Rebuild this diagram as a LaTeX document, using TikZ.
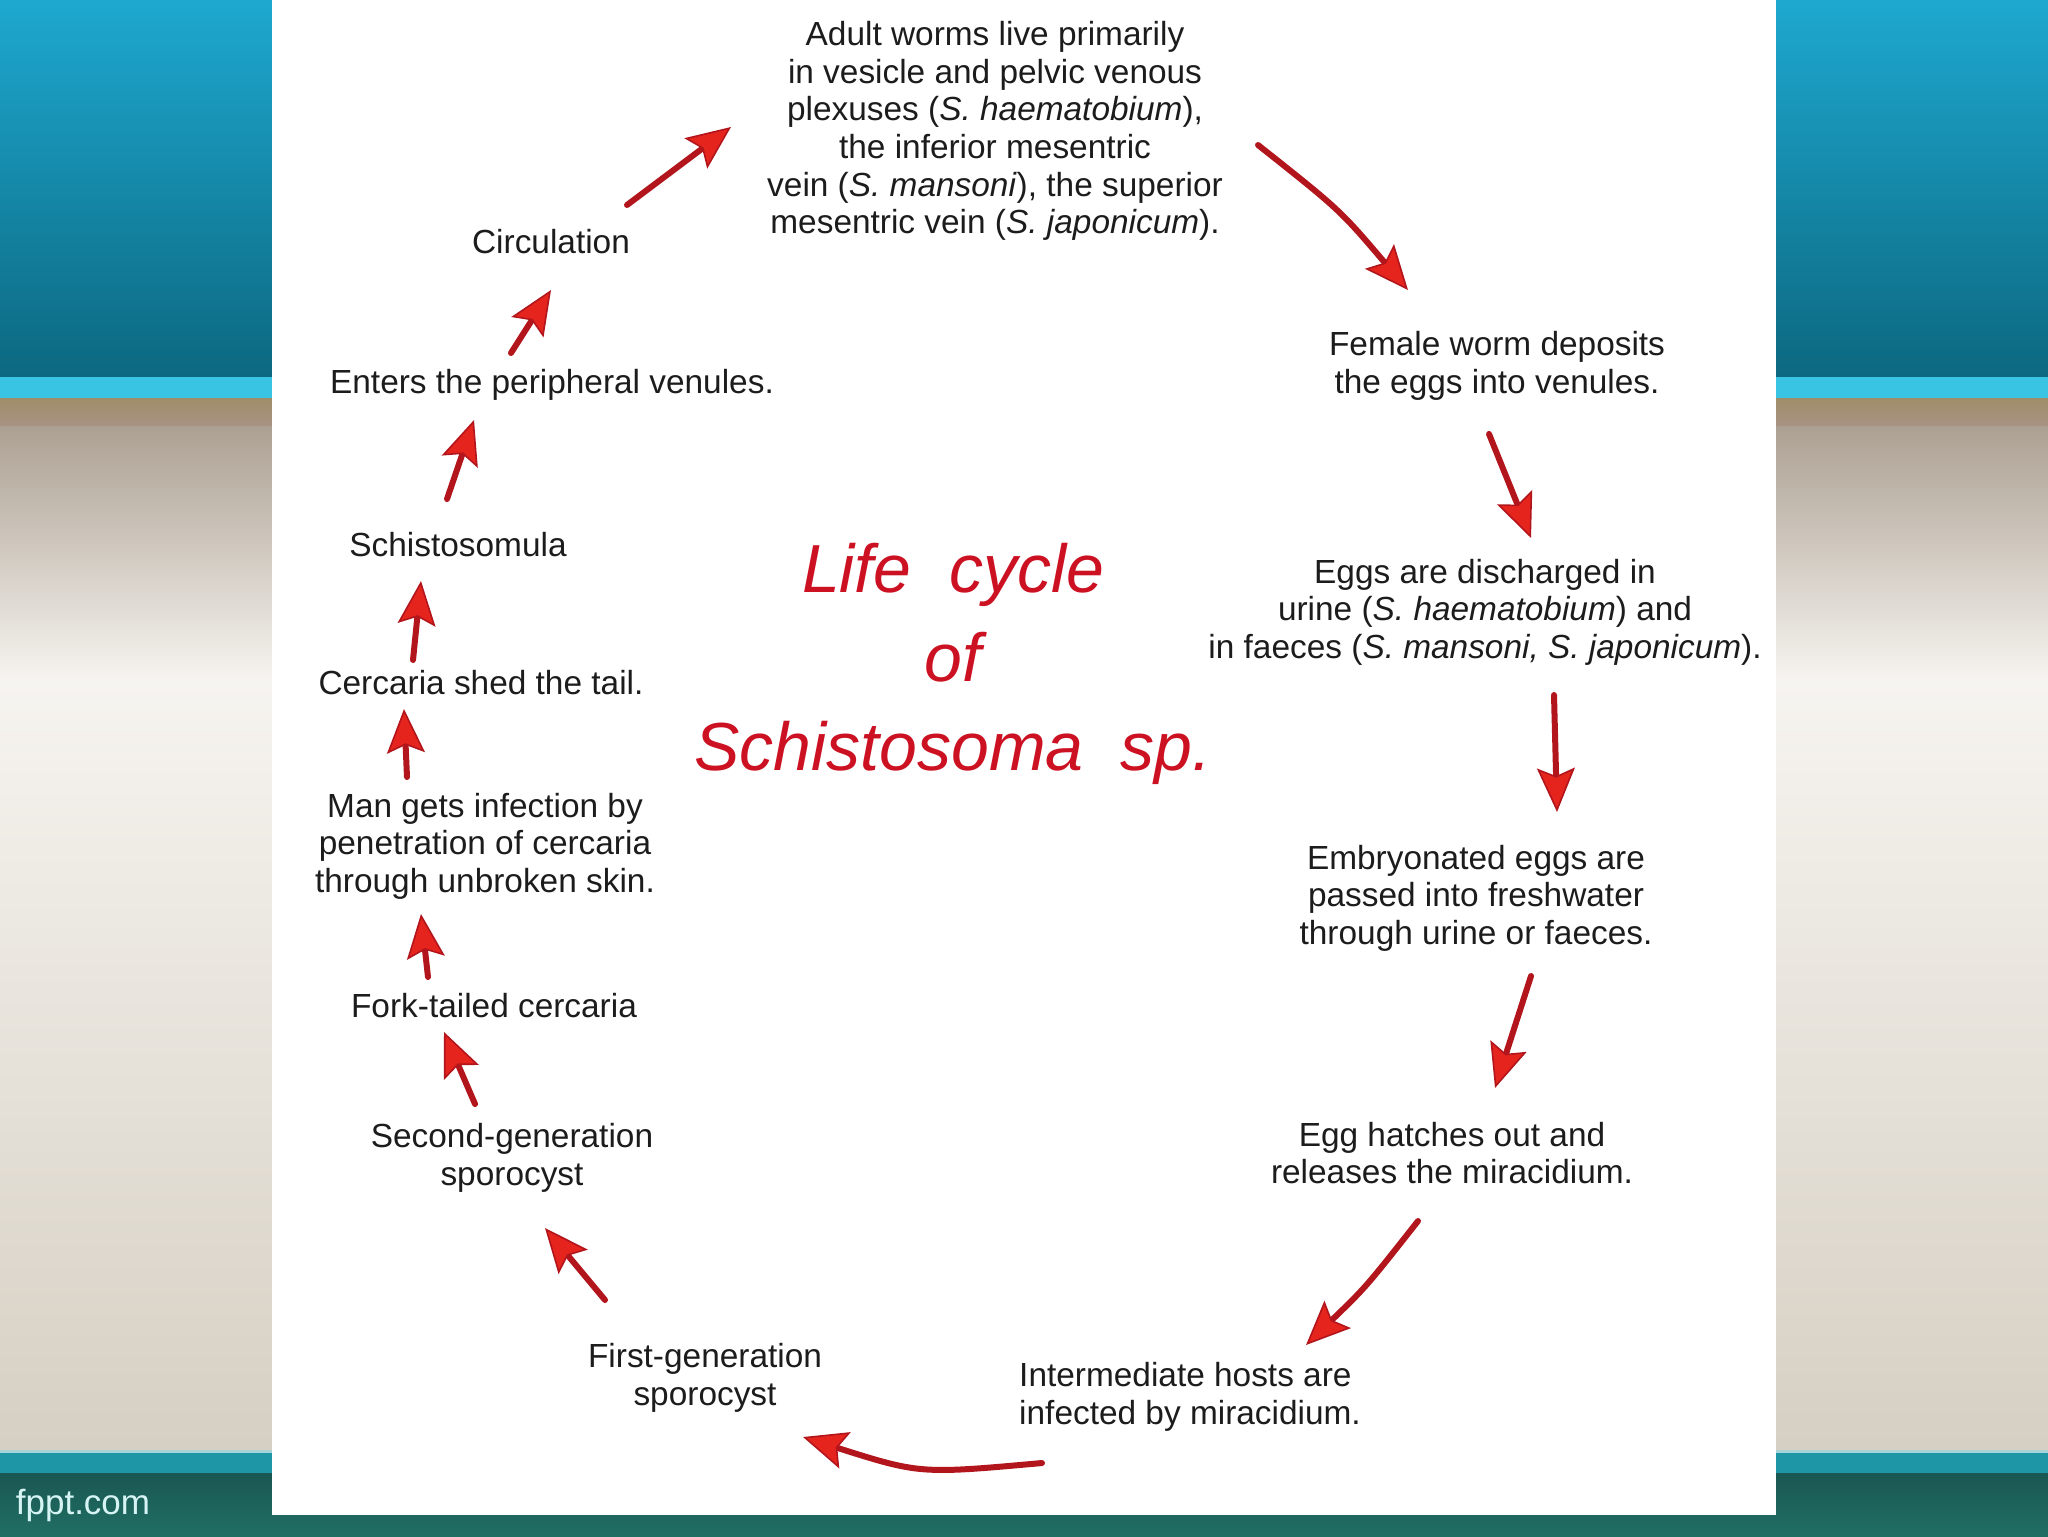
\documentclass[tikz,border=0pt]{standalone}
\usepackage{fontspec}
\setmainfont{Liberation Sans}
\usetikzlibrary{arrows.meta}
\definecolor{bluetop}{RGB}{30,168,208}
\definecolor{bluebot}{RGB}{12,104,128}
\definecolor{cyanstripe}{RGB}{56,196,226}
\definecolor{pinkband}{RGB}{168,146,132}
\definecolor{beigetop}{RGB}{172,160,146}
\definecolor{paletone}{RGB}{246,244,240}
\definecolor{beigebot}{RGB}{214,207,195}
\definecolor{tealstripe}{RGB}{30,150,166}
\definecolor{darkteal}{RGB}{26,88,82}
\definecolor{darkteal2}{RGB}{32,110,100}
\definecolor{footertext}{RGB}{214,244,244}
\definecolor{titlered}{RGB}{204,18,34}
\definecolor{arrowline}{RGB}{178,22,28}
\definecolor{arrowfill}{RGB}{230,36,30}
\definecolor{textgray}{RGB}{28,28,28}
\tikzset{
  lbl/.style={align=center, inner sep=0pt, text=textgray, font=\fontsize{16.7}{18.8}\selectfont},
  cyc/.style={draw=arrowline, line width=3pt, line cap=round,
    -{Stealth[length=22pt, width=19pt, inset=4pt, line width=0.8pt, fill=arrowfill]}},
}
\begin{document}
\begin{tikzpicture}[x=0.5pt, y=-0.5pt]
\useasboundingbox (0,0) rectangle (2048,1536);
% background
\shade[top color=bluetop, bottom color=bluebot] (0,0) rectangle (2048,377);
\fill[cyanstripe] (0,377) rectangle (2048,398);
\shade[top color=pinkband!80!olive, bottom color=pinkband] (0,398) rectangle (2048,426);
\shade[top color=beigetop, bottom color=paletone] (0,426) rectangle (2048,680);
\shade[top color=paletone, bottom color=beigebot] (0,680) rectangle (2048,1450);
\fill[tealstripe!40!white] (0,1450) rectangle (2048,1453);
\fill[tealstripe] (0,1453) rectangle (2048,1473);
\shade[top color=darkteal, bottom color=darkteal2] (0,1473) rectangle (2048,1536);
\fill[white] (272,0) rectangle (1776,1515);
\node[inner sep=0pt, text=footertext, font=\fontsize{17.5}{20}\selectfont] (footer) at (83,1505) {fppt.com};

% labels
\node[lbl] (adult) at (995,131) {Adult worms live primarily\\in vesicle and pelvic venous\\plexuses (\textit{S. haematobium}),\\the inferior mesentric\\vein (\textit{S. mansoni}), the superior\\mesentric vein (\textit{S. japonicum}).};
\node[lbl] (female) at (1497,366) {Female worm deposits\\the eggs into venules.};
\node[lbl] (eggs) at (1485,612) {Eggs are discharged in\\urine (\textit{S. haematobium}) and\\in faeces (\textit{S. mansoni, S. japonicum}).};
\node[lbl] (embryo) at (1476,898) {Embryonated eggs are\\passed into freshwater\\through urine or faeces.};
\node[lbl] (hatch) at (1452,1153) {Egg hatches out and\\releases the miracidium.};
\node[lbl, align=left] (inter) at (1190,1397) {Intermediate hosts are\\infected by miracidium.};
\node[lbl] (first) at (705,1378) {First-generation\\sporocyst};
\node[lbl] (second) at (512,1158) {Second-generation\\sporocyst};
\node[lbl] (fork) at (494,1006) {Fork-tailed cercaria};
\node[lbl] (man) at (485,846) {Man gets infection by\\penetration of cercaria\\through unbroken skin.};
\node[lbl] (cercaria) at (481,683) {Cercaria shed the tail.};
\node[lbl] (schisto) at (458,545) {Schistosomula};
\node[lbl] (enters) at (552,385) {Enters the peripheral venules.};
\node[lbl] (circ) at (551,242) {Circulation};

\node[align=center, inner sep=0pt, text=titlered, font=\fontsize{34}{44.5}\selectfont\itshape] (title) at (953,664) {Life\hspace{0.55em}cycle\\of\\Schistosoma\hspace{0.55em}sp.};

% arrow end points
\coordinate (a1s) at (627,205);   \coordinate (a1e) at (731,127);
\coordinate (a2s) at (1258,145);  \coordinate (a2e) at (1408,290);
\coordinate (a3s) at (1489,434);  \coordinate (a3e) at (1531,538);
\coordinate (a4s) at (1554,695);  \coordinate (a4e) at (1557,812);
\coordinate (a5s) at (1531,976);  \coordinate (a5e) at (1495,1088);
\coordinate (a6s) at (1418,1221); \coordinate (a6e) at (1306,1345);
\coordinate (a7s) at (1042,1463); \coordinate (a7e) at (803,1437);
\coordinate (a8s) at (605,1300);  \coordinate (a8e) at (545,1228);
\coordinate (a9s) at (475,1104);  \coordinate (a9e) at (444,1032);
\coordinate (a10s) at (428,977);  \coordinate (a10e) at (421,914);
\coordinate (a11s) at (407,777);  \coordinate (a11e) at (404,709);
\coordinate (a12s) at (413,660);  \coordinate (a12e) at (421,581);
\coordinate (a13s) at (447,499);  \coordinate (a13e) at (474,420);
\coordinate (a14s) at (511,353);  \coordinate (a14e) at (551,290);

\draw[cyc] (a1s) -- (a1e);
\draw[cyc] (a2s) .. controls (1340,210) .. (a2e);
\draw[cyc] (a3s) -- (a3e);
\draw[cyc] (a4s) -- (a4e);
\draw[cyc] (a5s) -- (a5e);
\draw[cyc] (a6s) .. controls (1366,1287) .. (a6e);
\draw[cyc] (a7s) .. controls (920,1474) .. (a7e);
\draw[cyc] (a8s) -- (a8e);
\draw[cyc] (a9s) -- (a9e);
\draw[cyc] (a10s) -- (a10e);
\draw[cyc] (a11s) -- (a11e);
\draw[cyc] (a12s) -- (a12e);
\draw[cyc] (a13s) -- (a13e);
\draw[cyc] (a14s) -- (a14e);
\end{tikzpicture}
\end{document}
